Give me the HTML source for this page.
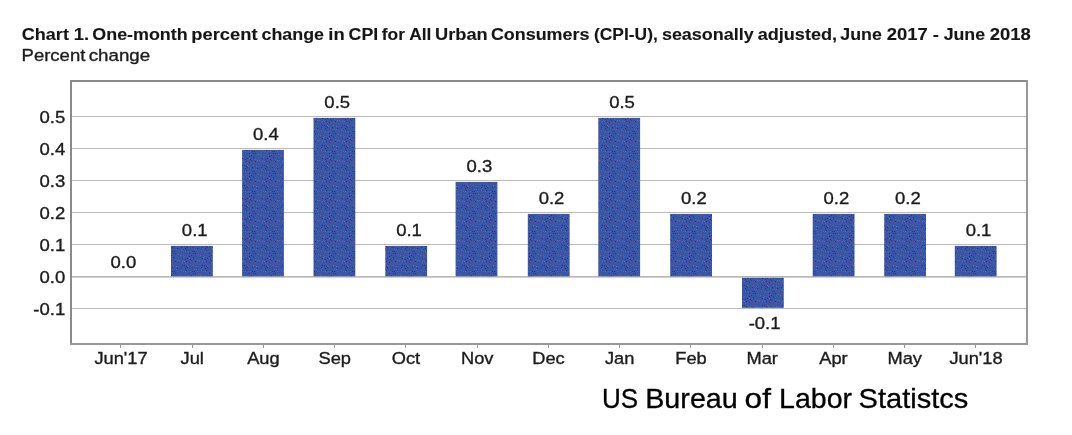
<!DOCTYPE html>
<html lang="en">
<head>
<meta charset="utf-8">
<title>Chart 1. One-month percent change in CPI-U</title>
<style>
html,body{margin:0;padding:0;background:#fff;}
body{width:1072px;height:435px;overflow:hidden;position:relative;font-family:'Liberation Sans', 'DejaVu Sans', sans-serif;color:#1a1a1a;}
svg{position:absolute;left:0;top:0;display:block;}
text{font-family:'Liberation Sans', 'DejaVu Sans', sans-serif;fill:#1c1c1c;stroke:#1c1c1c;stroke-width:0.35px;}
.t{font-size:17px;font-weight:bold;fill:#161616;stroke:#161616;stroke-width:0.12px;}
.s{font-size:17px;}
.l{font-size:17px;}
.f{font-size:27px;fill:#000;stroke:#000;stroke-width:0.3px;}
</style>
</head>
<body>
<svg width="1072" height="435" viewBox="0 0 1072 435">
<defs>
<pattern id="dots" width="20" height="20" patternUnits="userSpaceOnUse">
<rect width="20" height="20" fill="#37579f"/>
<rect x="10" y="4" width="1" height="1" fill="#3358d8"/>
<rect x="1" y="2" width="1" height="1" fill="#8a3a9a"/>
<rect x="17" y="3" width="1" height="1" fill="#3358d8"/>
<rect x="18" y="1" width="1" height="1" fill="#3358d8"/>
<rect x="6" y="1" width="1" height="1" fill="#3a2ca0"/>
<rect x="13" y="13" width="1" height="1" fill="#3a2ca0"/>
<rect x="7" y="2" width="1" height="1" fill="#3358d8"/>
<rect x="13" y="1" width="1" height="1" fill="#8a3a9a"/>
<rect x="7" y="18" width="1" height="1" fill="#3a2ca0"/>
<rect x="18" y="18" width="1" height="1" fill="#3358d8"/>
<rect x="1" y="7" width="1" height="1" fill="#3a2ca0"/>
<rect x="9" y="13" width="1" height="1" fill="#3a2ca0"/>
<rect x="18" y="9" width="1" height="1" fill="#3358d8"/>
<rect x="5" y="3" width="1" height="1" fill="#3a60e0"/>
<rect x="18" y="6" width="1" height="1" fill="#3358d8"/>
<rect x="3" y="17" width="1" height="1" fill="#7a5aa8"/>
<rect x="2" y="18" width="1" height="1" fill="#3a2ca0"/>
<rect x="15" y="17" width="1" height="1" fill="#3358d8"/>
<rect x="10" y="14" width="1" height="1" fill="#3a60e0"/>
<rect x="14" y="11" width="1" height="1" fill="#2a2a9c"/>
<rect x="7" y="5" width="1" height="1" fill="#7a5aa8"/>
<rect x="16" y="15" width="1" height="1" fill="#3358d8"/>
<rect x="14" y="9" width="1" height="1" fill="#3a60e0"/>
<rect x="2" y="3" width="1" height="1" fill="#3358d8"/>
<rect x="13" y="5" width="1" height="1" fill="#7a5aa8"/>
<rect x="15" y="13" width="1" height="1" fill="#3a2ca0"/>
<rect x="10" y="11" width="1" height="1" fill="#3a60e0"/>
<rect x="14" y="2" width="1" height="1" fill="#8a3a9a"/>
<rect x="2" y="8" width="1" height="1" fill="#3358d8"/>
<rect x="2" y="1" width="1" height="1" fill="#7a5aa8"/>
<rect x="9" y="18" width="1" height="1" fill="#7a5aa8"/>
<rect x="12" y="11" width="1" height="1" fill="#3a2ca0"/>
<rect x="5" y="19" width="1" height="1" fill="#3a2ca0"/>
<rect x="15" y="1" width="1" height="1" fill="#2a2a9c"/>
<rect x="7" y="12" width="1" height="1" fill="#3358d8"/>
<rect x="5" y="14" width="1" height="1" fill="#3358d8"/>
<rect x="17" y="8" width="1" height="1" fill="#3a2ca0"/>
<rect x="13" y="17" width="1" height="1" fill="#2a2a9c"/>
<rect x="12" y="7" width="1" height="1" fill="#3a2ca0"/>
<rect x="2" y="5" width="1" height="1" fill="#3a2ca0"/>
<rect x="7" y="7" width="1" height="1" fill="#3a2ca0"/>
<rect x="5" y="8" width="1" height="1" fill="#2a2a9c"/>
<rect x="0" y="4" width="1" height="1" fill="#3358d8"/>
<rect x="17" y="11" width="1" height="1" fill="#3a60e0"/>
<rect x="4" y="16" width="1" height="1" fill="#3a60e0"/>
<rect x="1" y="14" width="1" height="1" fill="#8a3a9a"/>
<rect x="12" y="3" width="1" height="1" fill="#3358d8"/>
<rect x="10" y="19" width="1" height="1" fill="#3a2ca0"/>
<rect x="3" y="0" width="1" height="1" fill="#3a60e0"/>
<rect x="3" y="11" width="1" height="1" fill="#3a60e0"/>
<rect x="8" y="11" width="1" height="1" fill="#3a60e0"/>
<rect x="11" y="15" width="1" height="1" fill="#3a2ca0"/>
<rect x="3" y="15" width="1" height="1" fill="#3358d8"/>
<rect x="9" y="2" width="1" height="1" fill="#3a2ca0"/>
<rect x="8" y="15" width="1" height="1" fill="#8a3a9a"/>
<rect x="0" y="6" width="1" height="1" fill="#3358d8"/>
<rect x="17" y="0" width="1" height="1" fill="#7a5aa8"/>
<rect x="16" y="9" width="1" height="1" fill="#7a5aa8"/>
<rect x="5" y="11" width="1" height="1" fill="#7a5aa8"/>
<rect x="17" y="16" width="1" height="1" fill="#3358d8"/>
<rect x="6" y="16" width="1" height="1" fill="#3358d8"/>
<rect x="11" y="0" width="1" height="1" fill="#3a2ca0"/>
<rect x="8" y="6" width="1" height="1" fill="#7a5aa8"/>
<rect x="19" y="11" width="1" height="1" fill="#3358d8"/>
<rect x="3" y="7" width="1" height="1" fill="#3358d8"/>
<rect x="6" y="10" width="1" height="1" fill="#2a2a9c"/>
<rect x="15" y="19" width="1" height="1" fill="#3a60e0"/>
<rect x="0" y="15" width="1" height="1" fill="#7a5aa8"/>
<rect x="11" y="2" width="1" height="1" fill="#8a3a9a"/>
<rect x="12" y="14" width="1" height="1" fill="#3358d8"/>
<rect x="18" y="14" width="1" height="1" fill="#7a5aa8"/>
<rect x="16" y="4" width="1" height="1" fill="#3358d8"/>
<rect x="6" y="6" width="1" height="1" fill="#3a2ca0"/>
<rect x="9" y="16" width="1" height="1" fill="#2a2a9c"/>
<rect x="8" y="17" width="1" height="1" fill="#3358d8"/>
<rect x="4" y="1" width="1" height="1" fill="#7a5aa8"/>
<rect x="19" y="0" width="1" height="1" fill="#7a5aa8"/>
<rect x="4" y="5" width="1" height="1" fill="#3a2ca0"/>
<rect x="1" y="10" width="1" height="1" fill="#7a5aa8"/>
<rect x="16" y="6" width="1" height="1" fill="#7a5aa8"/>
</pattern>
</defs>
<rect width="1072" height="435" fill="#ffffff"/>
<g shape-rendering="crispEdges">
<rect x="72" y="308" width="954" height="1" fill="#bababa"/>
<rect x="72" y="276" width="954" height="1" fill="#b8b8b8"/>
<rect x="72" y="277" width="954" height="1" fill="#d0d0d0"/>
<rect x="72" y="244" width="954" height="1" fill="#bababa"/>
<rect x="72" y="212" width="954" height="1" fill="#bababa"/>
<rect x="72" y="180" width="954" height="1" fill="#bababa"/>
<rect x="72" y="148" width="954" height="1" fill="#bababa"/>
<rect x="72" y="116" width="954" height="1" fill="#bababa"/>
<rect x="70" y="80" width="958" height="2" fill="#8a8a8a"/>
<rect x="70" y="80" width="2" height="265" fill="#8a8a8a"/>
<rect x="1026" y="80" width="2" height="265" fill="#989898"/>
<rect x="70" y="343" width="958" height="2" fill="#989898"/>
<rect x="120" y="345" width="1" height="3" fill="#9a9a9a"/>
<rect x="192" y="345" width="1" height="3" fill="#9a9a9a"/>
<rect x="263" y="345" width="1" height="3" fill="#9a9a9a"/>
<rect x="334" y="345" width="1" height="3" fill="#9a9a9a"/>
<rect x="405" y="345" width="1" height="3" fill="#9a9a9a"/>
<rect x="477" y="345" width="1" height="3" fill="#9a9a9a"/>
<rect x="548" y="345" width="1" height="3" fill="#9a9a9a"/>
<rect x="619" y="345" width="1" height="3" fill="#9a9a9a"/>
<rect x="690" y="345" width="1" height="3" fill="#9a9a9a"/>
<rect x="762" y="345" width="1" height="3" fill="#9a9a9a"/>
<rect x="833" y="345" width="1" height="3" fill="#9a9a9a"/>
<rect x="904" y="345" width="1" height="3" fill="#9a9a9a"/>
<rect x="975" y="345" width="1" height="3" fill="#9a9a9a"/>
</g>
<rect x="171.00" y="245.9" width="41.8" height="30.4" fill="url(#dots)"/>
<rect x="242.10" y="149.9" width="41.8" height="126.4" fill="url(#dots)"/>
<rect x="313.50" y="117.9" width="41.8" height="158.4" fill="url(#dots)"/>
<rect x="385.30" y="245.9" width="41.8" height="30.4" fill="url(#dots)"/>
<rect x="455.60" y="181.9" width="41.8" height="94.4" fill="url(#dots)"/>
<rect x="527.80" y="213.9" width="41.8" height="62.4" fill="url(#dots)"/>
<rect x="598.30" y="117.9" width="41.8" height="158.4" fill="url(#dots)"/>
<rect x="670.20" y="213.9" width="41.8" height="62.4" fill="url(#dots)"/>
<rect x="742.00" y="277.8" width="41.8" height="30.0" fill="url(#dots)"/>
<rect x="812.70" y="213.9" width="41.8" height="62.4" fill="url(#dots)"/>
<rect x="884.20" y="213.9" width="41.8" height="62.4" fill="url(#dots)"/>
<rect x="954.80" y="245.9" width="41.8" height="30.4" fill="url(#dots)"/>
<text class="l" text-anchor="end" transform="translate(65.2,315.0) scale(1.090,1)">-0.1</text>
<text class="l" text-anchor="end" transform="translate(65.2,283.0) scale(1.090,1)">0.0</text>
<text class="l" text-anchor="end" transform="translate(65.2,251.0) scale(1.090,1)">0.1</text>
<text class="l" text-anchor="end" transform="translate(65.2,219.0) scale(1.090,1)">0.2</text>
<text class="l" text-anchor="end" transform="translate(65.2,187.0) scale(1.090,1)">0.3</text>
<text class="l" text-anchor="end" transform="translate(65.2,155.0) scale(1.090,1)">0.4</text>
<text class="l" text-anchor="end" transform="translate(65.2,123.0) scale(1.090,1)">0.5</text>
<text class="l" text-anchor="middle" transform="translate(121.0,363.7) scale(1.075,1)">Jun'17</text>
<text class="l" text-anchor="middle" transform="translate(192.2,363.7) scale(1.075,1)">Jul</text>
<text class="l" text-anchor="middle" transform="translate(263.4,363.7) scale(1.075,1)">Aug</text>
<text class="l" text-anchor="middle" transform="translate(334.7,363.7) scale(1.075,1)">Sep</text>
<text class="l" text-anchor="middle" transform="translate(405.9,363.7) scale(1.075,1)">Oct</text>
<text class="l" text-anchor="middle" transform="translate(477.2,363.7) scale(1.075,1)">Nov</text>
<text class="l" text-anchor="middle" transform="translate(548.5,363.7) scale(1.075,1)">Dec</text>
<text class="l" text-anchor="middle" transform="translate(619.7,363.7) scale(1.075,1)">Jan</text>
<text class="l" text-anchor="middle" transform="translate(691.0,363.7) scale(1.075,1)">Feb</text>
<text class="l" text-anchor="middle" transform="translate(762.2,363.7) scale(1.075,1)">Mar</text>
<text class="l" text-anchor="middle" transform="translate(833.5,363.7) scale(1.075,1)">Apr</text>
<text class="l" text-anchor="middle" transform="translate(904.7,363.7) scale(1.075,1)">May</text>
<text class="l" text-anchor="middle" transform="translate(976.0,363.7) scale(1.075,1)">Jun'18</text>
<text class="l" text-anchor="middle" transform="translate(123.4,267.7) scale(1.090,1)">0.0</text>
<text class="l" text-anchor="middle" transform="translate(194.7,235.7) scale(1.090,1)">0.1</text>
<text class="l" text-anchor="middle" transform="translate(265.8,139.7) scale(1.090,1)">0.4</text>
<text class="l" text-anchor="middle" transform="translate(337.2,107.7) scale(1.090,1)">0.5</text>
<text class="l" text-anchor="middle" transform="translate(409.0,235.7) scale(1.090,1)">0.1</text>
<text class="l" text-anchor="middle" transform="translate(479.3,171.7) scale(1.090,1)">0.3</text>
<text class="l" text-anchor="middle" transform="translate(551.5,203.7) scale(1.090,1)">0.2</text>
<text class="l" text-anchor="middle" transform="translate(622.0,107.7) scale(1.090,1)">0.5</text>
<text class="l" text-anchor="middle" transform="translate(693.9,203.7) scale(1.090,1)">0.2</text>
<text class="l" text-anchor="middle" transform="translate(764.6,329.3) scale(1.090,1)">-0.1</text>
<text class="l" text-anchor="middle" transform="translate(836.4,203.7) scale(1.090,1)">0.2</text>
<text class="l" text-anchor="middle" transform="translate(907.9,203.7) scale(1.090,1)">0.2</text>
<text class="l" text-anchor="middle" transform="translate(978.5,235.7) scale(1.090,1)">0.1</text>
<text class="t" transform="translate(21.80,39.6) scale(1.062,1)">Chart</text>
<text class="t" transform="translate(73.79,39.6) scale(1.087,1)">1.</text>
<text class="t" transform="translate(92.31,39.6) scale(1.052,1)">One-month</text>
<text class="t" transform="translate(191.25,39.6) scale(1.080,1)">percent</text>
<text class="t" transform="translate(261.51,39.6) scale(1.051,1)">change</text>
<text class="t" transform="translate(328.35,39.6) scale(1.082,1)">in</text>
<text class="t" transform="translate(348.62,39.6) scale(1.045,1)">CPI</text>
<text class="t" transform="translate(381.75,39.6) scale(1.024,1)">for</text>
<text class="t" transform="translate(409.19,39.6) scale(1.025,1)">All</text>
<text class="t" transform="translate(435.03,39.6) scale(1.072,1)">Urban</text>
<text class="t" transform="translate(490.91,39.6) scale(1.054,1)">Consumers</text>
<text class="t" transform="translate(594.00,39.6) scale(1.024,1)">(CPI-U),</text>
<text class="t" transform="translate(661.91,39.6) scale(1.056,1)">seasonally</text>
<text class="t" transform="translate(757.67,39.6) scale(1.064,1)">adjusted,</text>
<text class="t" transform="translate(840.34,39.6) scale(1.048,1)">June</text>
<text class="t" transform="translate(886.71,39.6) scale(1.087,1)">2017</text>
<text class="t" transform="translate(932.87,39.6) scale(1.087,1)">-</text>
<text class="t" transform="translate(943.64,39.6) scale(1.045,1)">June</text>
<text class="t" transform="translate(989.77,39.6) scale(1.087,1)">2018</text>
<text class="s" transform="translate(21.57,60.7) scale(1.089,1)">Percent</text>
<text class="s" transform="translate(88.77,60.7) scale(1.100,1)">change</text>
<text class="f" transform="translate(602.07,407.6) scale(0.964,1)">US</text>
<text class="f" transform="translate(645.21,407.6) scale(1.064,1)">Bureau</text>
<text class="f" transform="translate(744.60,407.6) scale(1.170,1)">of</text>
<text class="f" transform="translate(779.12,407.6) scale(1.057,1)">Labor</text>
<text class="f" transform="translate(858.56,407.6) scale(1.076,1)">Statistcs</text>
</svg>
</body>
</html>
